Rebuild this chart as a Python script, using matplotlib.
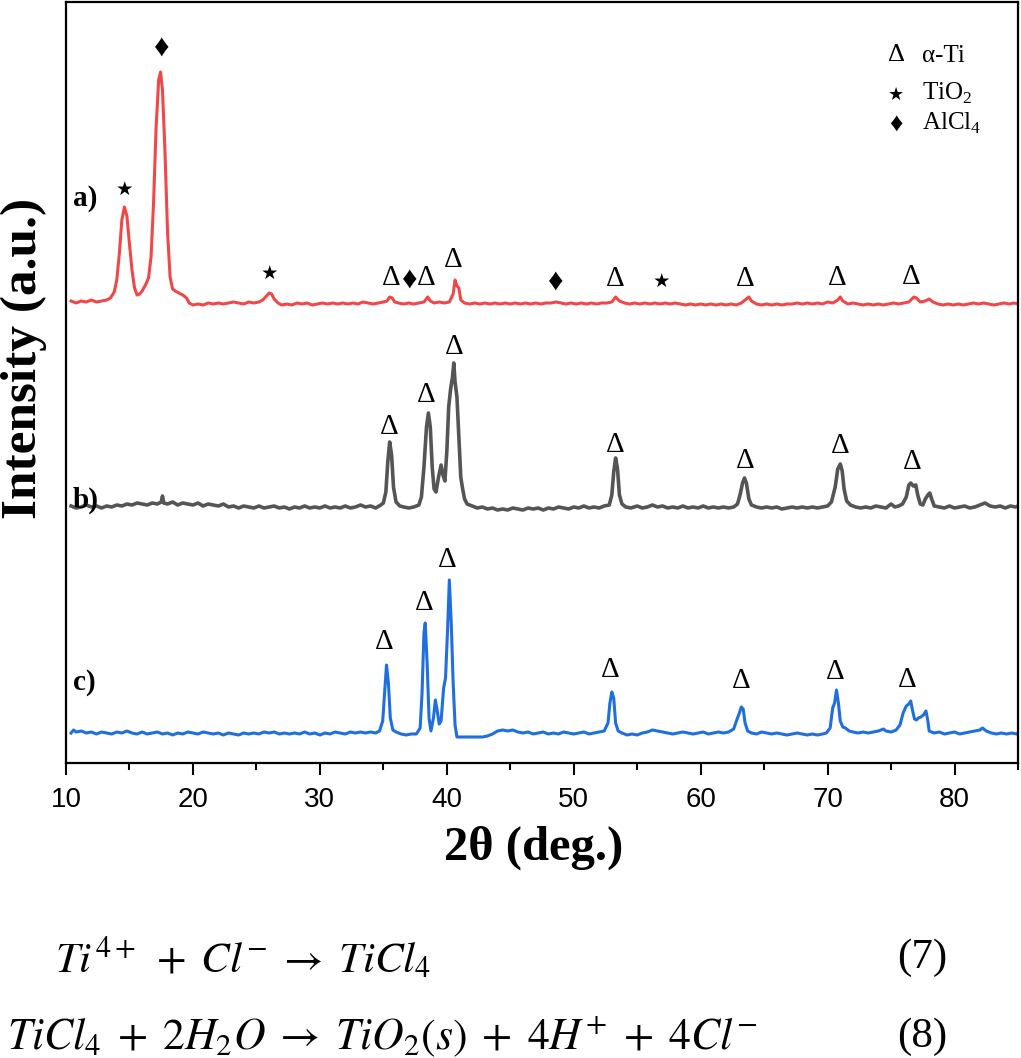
import matplotlib
matplotlib.use("Agg")
import matplotlib.pyplot as plt
from matplotlib.ticker import MultipleLocator

SERIF = ["Liberation Serif", "DejaVu Sans"]

# ---- data (intensity in arbitrary units, baseline ~0) ----
a_2theta = [10.4, 10.8, 11.2, 11.6, 12.0, 12.4, 12.8, 13.2, 13.5, 13.8, 14.0, 14.2, 14.4, 14.6, 14.8,
            15.0, 15.2, 15.4, 15.6, 15.8, 16.0, 16.3, 16.5, 16.7, 16.9, 17.1, 17.3, 17.45, 17.6, 17.8,
            18.0, 18.2, 18.4, 18.6, 18.9, 19.2, 19.5, 19.7, 20.0, 20.4, 20.8, 21.2, 21.6, 22.0, 22.4,
            22.8, 23.2, 23.6, 24.0, 24.4, 24.8, 25.2, 25.5, 25.8, 26.0, 26.2, 26.4, 26.7, 27.0, 27.4,
            27.8, 28.2, 28.6, 29.0, 29.4, 29.8, 30.2, 30.6, 31.0, 31.4, 31.8, 32.2, 32.6, 33.0, 33.4,
            33.8, 34.2, 34.6, 35.0, 35.3, 35.5, 35.7, 35.9, 36.2, 36.6, 37.0, 37.4, 37.8, 38.2, 38.5,
            38.7, 39.0, 39.4, 39.8, 40.2, 40.5, 40.65, 40.8, 40.95, 41.1, 41.4, 41.8, 42.2, 42.6, 43.0,
            43.4, 43.8, 44.2, 44.6, 45.0, 45.4, 45.8, 46.2, 46.6, 47.0, 47.4, 47.8, 48.2, 48.6, 49.0,
            49.4, 49.8, 50.2, 50.6, 51.0, 51.4, 51.8, 52.2, 52.6, 53.0, 53.3, 53.6, 54.0, 54.4, 54.8,
            55.2, 55.6, 56.0, 56.4, 56.8, 57.2, 57.6, 58.0, 58.4, 58.8, 59.2, 59.6, 60.0, 60.4, 60.8,
            61.2, 61.6, 62.0, 62.4, 62.8, 63.2, 63.6, 63.8, 64.0, 64.4, 64.8, 65.2, 65.6, 66.0, 66.4,
            66.8, 67.2, 67.6, 68.0, 68.4, 68.8, 69.2, 69.6, 70.0, 70.4, 70.8, 71.0, 71.2, 71.6, 72.0,
            72.4, 72.8, 73.2, 73.6, 74.0, 74.4, 74.8, 75.2, 75.6, 76.0, 76.4, 76.8, 77.0, 77.3, 77.7,
            78.0, 78.3, 78.7, 79.1, 79.5, 79.9, 80.3, 80.7, 81.1, 81.5, 81.9, 82.3, 82.7, 83.1, 83.5,
            83.9, 84.3, 84.7, 85.0]
a_int = [1, -1, 1, 0, 2, 0, 1, 2, 4, 10, 22, 48, 82, 95, 86,
         58, 32, 14, 7, 8, 11, 18, 24, 45, 100, 175, 222, 230, 212, 150,
         70, 25, 13, 11, 9, 7, 4, -1, -3, -2, -3, -1, -2, -1, -2,
         -1, 0, -1, -2, 0, -1, 0, 2, 6, 9, 8, 3, -1, -3, -2,
         -3, -1, -2, -1, -3, -2, -1, -2, -1, -2, -1, -2, -1, -2, 0,
         -1, -2, -1, 0, 1, 5, 4, 0, -1, -2, -1, -2, -1, 0, 5,
         1, -1, 0, -1, 0, 8, 22, 16, 14, 2, -1, -2, -1, -2, -1,
         -2, -1, -2, -1, -2, -1, -2, -1, -2, -1, -2, -1, -1, 0, -1,
         -2, -1, -2, -1, -2, -1, -2, -1, -1, 0, 5, 1, -1, -2, -1,
         -2, -1, -2, -1, -2, -1, -2, -1, -2, -3, -2, -3, -2, -3, -2,
         -3, -2, -3, -2, -3, -1, 3, 5, 1, -2, -3, -2, -3, -2, -3,
         -2, -2, -1, -2, -1, -2, -1, -2, 0, -1, 2, 5, 1, -2, -1,
         -2, -3, -2, -3, -2, -3, -2, -1, -2, -1, 0, 5, 4, 0, 1,
         3, 0, -2, -3, -2, -3, -2, -3, -2, -1, -2, -1, -2, -3, -2,
         -1, -2, -1, -2]

b_2theta = [10.4, 10.8, 11.2, 11.6, 12.0, 12.4, 12.8, 13.2, 13.6, 14.0, 14.4, 14.8, 15.2, 15.6, 16.0,
            16.4, 16.8, 17.2, 17.5, 17.6, 17.7, 18.0, 18.4, 18.8, 19.2, 19.6, 20.0, 20.4, 20.8, 21.2,
            21.6, 22.0, 22.4, 22.8, 23.2, 23.6, 24.0, 24.4, 24.8, 25.2, 25.6, 26.0, 26.4, 26.8, 27.2,
            27.6, 28.0, 28.4, 28.8, 29.2, 29.6, 30.0, 30.4, 30.8, 31.2, 31.6, 32.0, 32.4, 32.8, 33.2,
            33.6, 34.0, 34.4, 34.8, 35.0, 35.2, 35.35, 35.5, 35.65, 35.8, 36.0, 36.3, 36.6, 37.0, 37.4,
            37.8, 38.0, 38.2, 38.4, 38.55, 38.7, 38.85, 39.0, 39.15, 39.35, 39.55, 39.7, 39.85, 40.0, 40.15,
            40.3, 40.45, 40.55, 40.65, 40.8, 40.95, 41.1, 41.25, 41.4, 41.6, 42.0, 42.4, 42.8, 43.2, 43.6,
            44.0, 44.4, 44.8, 45.2, 45.6, 46.0, 46.4, 46.8, 47.2, 47.6, 48.0, 48.4, 48.8, 49.2, 49.6,
            50.0, 50.4, 50.8, 51.2, 51.6, 52.0, 52.4, 52.8, 53.0, 53.15, 53.3, 53.45, 53.6, 53.8, 54.1,
            54.5, 55.0, 55.4, 55.8, 56.2, 56.6, 57.0, 57.4, 57.8, 58.2, 58.6, 59.0, 59.4, 59.8, 60.2,
            60.6, 61.0, 61.4, 61.8, 62.2, 62.6, 62.9, 63.1, 63.3, 63.45, 63.6, 63.8, 64.0, 64.4, 64.8,
            65.2, 65.6, 66.0, 66.4, 66.8, 67.2, 67.6, 68.0, 68.4, 68.8, 69.2, 69.6, 70.0, 70.3, 70.6,
            70.8, 71.0, 71.15, 71.3, 71.5, 71.8, 72.2, 72.6, 73.0, 73.4, 73.8, 74.2, 74.6, 75.0, 75.3,
            75.6, 75.9, 76.2, 76.4, 76.55, 76.75, 76.95, 77.1, 77.3, 77.5, 77.7, 77.9, 78.05, 78.2, 78.4,
            78.8, 79.2, 79.6, 80.0, 80.4, 80.8, 81.2, 81.6, 82.0, 82.4, 82.8, 83.2, 83.6, 84.0, 84.4,
            84.8, 85.0]
b_int = [1, -1, 0, 2, 0, 1, -1, 1, 0, 2, 1, 3, 2, 4, 3,
         2, 4, 3, 5, 11, 4, 3, 5, 2, 4, 3, 2, 4, 1, 3,
         2, 1, 3, 0, 1, -1, 1, 0, -1, 1, -1, 0, 1, -1, 0,
         -2, 0, -1, 1, -1, 0, -1, 1, -1, 0, -1, 1, -1, 0, 2,
         0, 1, -1, 2, 4, 15, 45, 65, 52, 20, 5, 1, 0, -1, 0,
         2, 10, 40, 80, 94, 80, 40, 18, 15, 30, 42, 32, 26, 55, 100,
         118, 130, 144, 125, 110, 70, 30, 18, 8, 3, 1, -1, 0, -2, -1,
         -3, -2, -3, -1, -2, -3, -1, -2, -1, -3, -1, -2, 0, -1, -2,
         0, -1, 1, -1, 0, -1, 1, 2, 12, 35, 49, 38, 12, 3, 0,
         -1, 1, -1, 0, 2, 0, 1, -1, 0, -1, 1, -1, 0, -1, 1,
         -1, 0, -1, 0, -1, 0, 3, 12, 24, 29, 24, 8, 2, 0, -1,
         0, -1, 0, -2, -1, 0, -1, 0, -1, 0, -1, 0, 1, 5, 20,
         38, 43, 36, 18, 6, 2, 0, -1, 0, -1, 1, 0, -1, 3, 0,
         1, 3, 10, 22, 24, 21, 22, 12, 3, 2, 8, 12, 14, 8, 1,
         0, -1, 1, -1, 0, 1, -1, 0, 2, 4, 1, 0, 1, -1, 1,
         0, 1]

c_2theta = [10.4, 10.6, 10.8, 11.2, 11.6, 12.0, 12.4, 12.8, 13.2, 13.6, 14.0, 14.4, 14.8, 15.2, 15.6,
            16.0, 16.4, 16.8, 17.2, 17.6, 18.0, 18.4, 18.8, 19.2, 19.6, 20.0, 20.4, 20.8, 21.2, 21.6,
            22.0, 22.4, 22.8, 23.2, 23.6, 24.0, 24.4, 24.8, 25.2, 25.6, 26.0, 26.4, 26.8, 27.2, 27.6,
            28.0, 28.4, 28.8, 29.2, 29.6, 30.0, 30.4, 30.8, 31.2, 31.6, 32.0, 32.4, 32.8, 33.2, 33.6,
            34.0, 34.4, 34.7, 34.95, 35.1, 35.25, 35.4, 35.55, 35.75, 36.0, 36.4, 36.8, 37.2, 37.6, 37.9,
            38.05, 38.2, 38.3, 38.45, 38.6, 38.75, 38.95, 39.1, 39.25, 39.4, 39.55, 39.75, 39.9, 40.05, 40.2,
            40.35, 40.5, 40.65, 40.8, 41.2, 41.6, 42.0, 42.4, 42.8, 43.2, 43.6, 44.0, 44.4, 44.8, 45.2,
            45.6, 46.0, 46.4, 46.8, 47.2, 47.6, 48.0, 48.4, 48.8, 49.2, 49.6, 50.0, 50.4, 50.8, 51.2,
            51.6, 52.0, 52.4, 52.7, 52.85, 53.0, 53.15, 53.3, 53.5, 53.8, 54.2, 54.6, 55.0, 55.4, 55.8,
            56.2, 56.6, 57.0, 57.4, 57.8, 58.2, 58.6, 59.0, 59.4, 59.8, 60.2, 60.6, 61.0, 61.4, 61.8,
            62.2, 62.6, 62.9, 63.05, 63.2, 63.35, 63.5, 63.7, 64.0, 64.4, 64.8, 65.2, 65.6, 66.0, 66.4,
            66.8, 67.2, 67.6, 68.0, 68.4, 68.8, 69.2, 69.6, 69.9, 70.2, 70.4, 70.55, 70.7, 70.85, 71.0,
            71.2, 71.4, 71.7, 72.0, 72.4, 72.8, 73.2, 73.6, 74.0, 74.4, 74.6, 75.0, 75.4, 75.7, 75.95,
            76.2, 76.4, 76.55, 76.7, 76.85, 77.0, 77.15, 77.35, 77.55, 77.75, 77.9, 78.0, 78.4, 78.8, 79.2,
            79.6, 80.0, 80.4, 80.8, 81.2, 81.6, 82.0, 82.2, 82.5, 82.9, 83.3, 83.7, 84.1, 84.5, 84.9,
            85.0]
c_int = [0, 3, 1, 2, 0, 1, -1, 1, 0, -1, 1, 0, 2, 0, -1,
         1, -1, 0, 1, -1, 0, -2, 0, -1, 1, 0, -1, 1, 0, -1,
         0, -2, 0, -1, -2, 0, -1, 0, -1, 1, 0, 1, -1, 0, -1,
         0, -1, 1, -1, 0, -2, 0, -1, 1, 0, -1, 1, 0, 1, 0,
         1, 0, 2, 12, 40, 68, 50, 15, 3, 1, -1, -2, -1, -1, 5,
         40, 100, 110, 70, 15, 2, 15, 33, 22, 9, 12, 45, 55, 100, 153,
         110, 50, 8, -4, -4, -4, -4, -4, -4, -3, -1, 2, 3, 2, 3,
         1, 0, 1, -1, 0, 1, -1, 0, -1, 1, 0, -1, 0, 1, -1,
         0, 1, 2, 10, 30, 41, 35, 10, 2, 0, -2, -1, -2, 0, 1,
         3, 2, 1, 0, -1, 0, 1, 0, -1, 0, 1, -1, 0, 1, 0,
         1, 4, 15, 20, 26, 24, 10, 2, 0, -1, 1, 0, -1, 0, -1,
         -2, -1, 0, -1, -2, -1, -2, -1, 0, 5, 25, 30, 43, 30, 12,
         6, 5, 2, 1, 0, 1, 0, 1, 2, 4, 2, 1, 3, 8, 20,
         27, 29, 32, 22, 14, 13, 15, 16, 18, 22, 12, 2, 0, 1, -1,
         0, 1, -1, 0, 1, 2, 3, 5, 2, 0, -1, 0, -1, 0, -1,
         0]

offsets = [461, 256, 30]
colors = ["#F04848", "#555555", "#1F6FDF"]
widths = [2.2, 2.6, 2.2]
series_labels = ["a)", "b)", "c)"]

# phase marks: 2theta, height, symbol
a_mark_2theta = [14.6, 17.5, 26.0, 35.6, 37.0, 38.4, 40.5, 48.5, 53.3, 56.9, 63.5, 70.75, 76.6]
a_mark_y = [573, 715, 489, 485, 483, 485, 503, 481, 484, 481, 484, 485, 486]
a_mark_sym = ["★", "♦", "★", "Δ", "♦", "Δ", "Δ", "♦", "Δ", "★", "Δ", "Δ", "Δ"]
b_mark_2theta = [35.5, 38.4, 40.6, 53.3, 63.5, 71.0, 76.7]
b_mark_y = [336, 368, 416, 318, 302, 317, 301]
c_mark_2theta = [35.1, 38.2, 40.0, 52.9, 63.2, 70.6, 76.3]
c_mark_y = [121, 160, 203, 93, 82, 91, 83]

legend_sym = ["Δ", "★", "♦"]
legend_txt = ["α-Ti", "TiO$_{\\mathregular{2}}$", "AlCl$_{\\mathregular{4}}$"]

fig = plt.figure(figsize=(10.21, 10.58), dpi=100)
ax = fig.add_axes([66 / 1021, 1 - 763 / 1058, 952 / 1021, 761 / 1058])

curves = [(a_2theta, a_int), (b_2theta, b_int), (c_2theta, c_int)]
for (x, y), off, col, lw in zip(curves, offsets, colors, widths):
    ax.plot(x, [v + off for v in y], color=col, lw=lw)

ax.set_xlim(10, 85)
ax.set_ylim(0, 761)
ax.set_yticks([])
ax.xaxis.set_major_locator(MultipleLocator(10))
ax.xaxis.set_minor_locator(MultipleLocator(5))
ax.tick_params(axis="x", which="major", direction="out", length=8.5, width=1.5, pad=9,
               labelsize=20)
ax.tick_params(axis="x", which="minor", direction="out", length=5, width=1.5)
for lab in ax.get_xticklabels():
    lab.set_fontfamily("Liberation Sans")
for sp in ax.spines.values():
    sp.set_linewidth(1.6)

# series labels
for lab, yy in zip(series_labels, [565, 263, 80]):
    ax.text(10.55, yy, lab, fontsize=21, fontweight="bold", family=SERIF, ha="left", va="center")

MARK_SIZE = {"Δ": 21, "★": 14, "♦": 22}


def mark(xs, ys, syms):
    for x, y, s in zip(xs, ys, syms):
        ax.text(x, y, s, fontsize=MARK_SIZE[s], family=SERIF, ha="center", va="center")


mark(a_mark_2theta, a_mark_y, a_mark_sym)
mark(b_mark_2theta, b_mark_y, ["Δ"] * len(b_mark_2theta))
mark(c_mark_2theta, c_mark_y, ["Δ"] * len(c_mark_2theta))

# legend written as text
plt.rcParams["mathtext.fontset"] = "custom"
plt.rcParams["mathtext.rm"] = "Liberation Serif"
for s, t, ys, yt in zip(legend_sym, legend_txt, [708, 668, 638], [701, 663, 633]):
    ax.text(75.4, ys, s, fontsize={"Δ": 19, "★": 13, "♦": 19}[s], family=SERIF,
            ha="center", va="center")
    ax.text(77.45, yt, t, fontsize=18, family=SERIF, ha="left", va="baseline")

fig.text(24 / 1021, 1 - 358 / 1058, "Intensity (a.u.)", rotation=90, fontsize=37,
         fontweight="bold", family=SERIF, ha="center", va="center")
fig.text(534 / 1021, 1 - 848 / 1058, "2θ (deg.)", fontsize=35, fontweight="bold",
         family=SERIF, ha="center", va="center")

# reaction equations under the chart
fig.text(55 / 1021, 1 - 958 / 1058,
         r"$Ti^{4+}\;+\;Cl^{-}\;\rightarrow\;TiCl_4$", fontsize=31,
         math_fontfamily="stix", ha="left", va="center")
fig.text(7 / 1021, 1 - 1037 / 1058,
         r"$TiCl_4\;+\;2H_2O\;\rightarrow\;TiO_2(s)\;+\;4H^{+}\;+\;4Cl^{-}$", fontsize=31.5,
         math_fontfamily="stix", ha="left", va="center")
fig.text(922 / 1021, 1 - 958 / 1058, "(7)", fontsize=31, family=SERIF, ha="center", va="center")
fig.text(922 / 1021, 1 - 1037 / 1058, "(8)", fontsize=31, family=SERIF, ha="center", va="center")

fig.savefig("out.png", dpi=100)
